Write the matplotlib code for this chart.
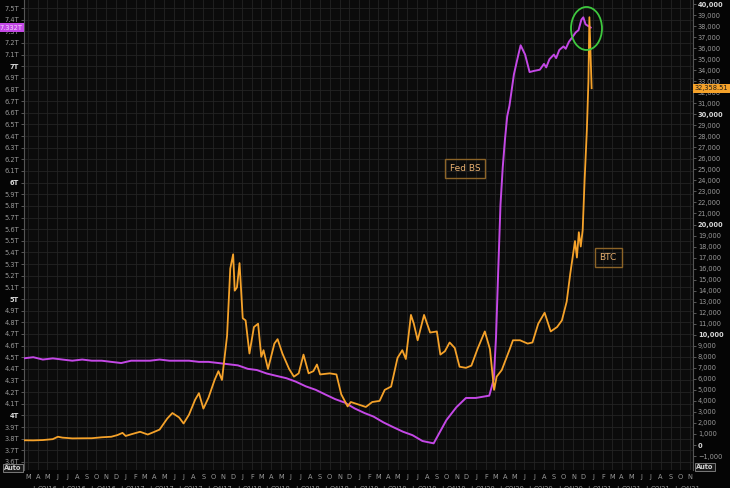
import matplotlib
matplotlib.use('Agg')
import matplotlib.pyplot as plt
import matplotlib.transforms as mtrans
from matplotlib.patches import Ellipse
import pandas as pd

# ---------------- data ----------------
fed_dates = ['2016-03-01', '2016-04-01', '2016-05-01', '2016-06-01', '2016-07-01', '2016-08-01',
             '2016-09-01', '2016-10-01', '2016-11-01', '2016-12-01', '2017-01-01', '2017-02-01',
             '2017-03-01', '2017-04-01', '2017-05-01', '2017-06-01', '2017-07-01', '2017-08-01',
             '2017-09-01', '2017-10-01', '2017-11-01', '2017-12-01', '2018-01-01', '2018-02-01',
             '2018-03-01', '2018-04-01', '2018-05-01', '2018-06-01', '2018-07-01', '2018-08-01',
             '2018-09-01', '2018-10-01', '2018-11-01', '2018-12-01', '2019-01-01', '2019-02-01',
             '2019-03-01', '2019-04-01', '2019-05-01', '2019-06-01', '2019-07-01', '2019-08-01',
             '2019-09-05', '2019-09-25', '2019-10-15', '2019-11-15', '2019-12-15', '2020-01-15',
             '2020-02-26', '2020-03-04', '2020-03-11', '2020-03-18', '2020-03-25', '2020-04-01',
             '2020-04-08', '2020-04-15', '2020-04-22', '2020-04-29', '2020-05-13', '2020-05-27',
             '2020-06-03', '2020-06-17', '2020-07-01', '2020-07-15', '2020-08-02', '2020-08-15',
             '2020-08-22', '2020-09-01', '2020-09-15', '2020-09-22', '2020-10-02', '2020-10-15',
             '2020-10-22', '2020-11-01', '2020-11-12', '2020-11-22', '2020-12-01', '2020-12-10',
             '2020-12-16', '2020-12-23', '2021-01-08']
fed_bs = [4.49, 4.50, 4.48, 4.49, 4.48, 4.47,
          4.48, 4.47, 4.47, 4.46, 4.45, 4.47,
          4.47, 4.47, 4.48, 4.47, 4.47, 4.47,
          4.46, 4.46, 4.45, 4.44, 4.43, 4.40,
          4.39, 4.36, 4.34, 4.32, 4.29, 4.25,
          4.22, 4.18, 4.14, 4.11, 4.06, 4.02,
          3.99, 3.94, 3.90, 3.86, 3.83, 3.78,
          3.76, 3.86, 3.96, 4.07, 4.15, 4.15,
          4.17, 4.24, 4.31, 4.67, 5.25, 5.81,
          6.13, 6.37, 6.57, 6.66, 6.93, 7.10,
          7.18, 7.10, 6.95, 6.96, 6.97, 7.02,
          6.99, 7.06, 7.10, 7.07, 7.14, 7.17,
          7.15, 7.21, 7.25, 7.29, 7.31, 7.40,
          7.42, 7.36, 7.3321]

btc_dates = ['2016-03-01', '2016-04-01', '2016-05-01', '2016-06-01', '2016-06-17', '2016-07-01',
             '2016-08-01', '2016-09-01', '2016-10-01', '2016-11-01', '2016-12-01', '2016-12-20',
             '2017-01-05', '2017-01-15', '2017-02-01', '2017-03-01', '2017-03-25', '2017-04-15',
             '2017-05-01', '2017-05-25', '2017-06-10', '2017-07-01', '2017-07-15', '2017-08-01',
             '2017-08-20', '2017-09-01', '2017-09-15', '2017-10-01', '2017-10-20', '2017-11-01',
             '2017-11-12', '2017-11-28', '2017-12-08', '2017-12-17', '2017-12-22', '2017-12-29',
             '2018-01-06', '2018-01-16', '2018-01-25', '2018-02-06', '2018-02-20', '2018-03-05',
             '2018-03-15', '2018-03-22', '2018-04-05', '2018-04-25', '2018-05-05', '2018-05-20',
             '2018-06-10', '2018-06-25', '2018-07-10', '2018-07-25', '2018-08-10', '2018-08-25',
             '2018-09-05', '2018-09-15', '2018-10-15', '2018-11-05', '2018-11-20', '2018-12-10',
             '2018-12-20', '2019-01-10', '2019-02-05', '2019-02-25', '2019-03-20', '2019-04-05',
             '2019-04-25', '2019-05-15', '2019-05-30', '2019-06-10', '2019-06-26', '2019-07-05',
             '2019-07-17', '2019-08-06', '2019-08-25', '2019-09-15', '2019-09-26', '2019-10-10',
             '2019-10-25', '2019-11-10', '2019-11-25', '2019-12-15', '2020-01-01', '2020-01-20',
             '2020-02-12', '2020-02-28', '2020-03-12', '2020-03-20', '2020-04-05', '2020-04-30',
             '2020-05-10', '2020-06-01', '2020-06-25', '2020-07-10', '2020-07-28', '2020-08-17',
             '2020-09-05', '2020-09-25', '2020-10-10', '2020-10-25', '2020-11-05', '2020-11-20',
             '2020-11-26', '2020-12-02', '2020-12-08', '2020-12-14', '2020-12-20', '2020-12-27',
             '2021-01-01', '2021-01-04', '2021-01-11']
btc = [430, 420, 450, 530, 750, 670,
       600, 610, 615, 700, 750, 900,
       1100, 820, 970, 1200, 950, 1200,
       1400, 2400, 2900, 2500, 1950, 2750,
       4100, 4700, 3300, 4300, 5900, 6700,
       5900, 9900, 16000, 17300, 14000, 14300,
       16500, 11500, 11300, 8300, 10700, 11000,
       8000, 8600, 6900, 9200, 9600, 8300,
       6900, 6200, 6500, 8200, 6500, 6700,
       7300, 6400, 6500, 6400, 4600, 3500,
       3900, 3700, 3450, 3900, 4000, 5000,
       5300, 7900, 8600, 7800, 11800, 11000,
       9500, 11800, 10200, 10300, 8200, 8500,
       9300, 8800, 7100, 7000, 7200, 8700,
       10300, 8700, 5000, 6200, 6800, 8700,
       9500, 9500, 9200, 9300, 11000, 12000,
       10300, 10700, 11300, 13000, 15500, 18500,
       17000, 19300, 18000, 19500, 24000, 28500,
       33000, 38800, 32358.51]

left_ticks = [round(3.6 + 0.1 * i, 1) for i in range(40)]
right_ticks = list(range(-1000, 41000, 1000))
month_letters = 'JFMAMJJASOND'
fed_last_label = '7.332T'
btc_last_label = '32,358.51'

# ---------------- style ----------------
BG = '#0b0b0b'
GRID = '#242424'
TXT = '#9a9a9a'
MAG = '#c448e6'
ORA = '#f5a22a'

fig = plt.figure(figsize=(7.3, 4.88), dpi=100, facecolor='#050505')
ax = fig.add_axes([24 / 730, 1 - 470 / 488, 669 / 730, 470 / 488])
ax.set_facecolor(BG)
ax2 = ax.twinx()

fd = pd.to_datetime(fed_dates)
bd = pd.to_datetime(btc_dates)
ax.plot(fd, fed_bs, color=MAG, lw=1.4, zorder=3)
ax2.plot(bd, btc, color=ORA, lw=1.3, zorder=3)

ax.set_xlim(pd.Timestamp('2016-03-03'), pd.Timestamp('2021-11-24'))
ax.set_ylim(3.531, 7.569)
ax2.set_ylim(-2267, 40363)

# grid
months = pd.date_range('2016-03-01', '2021-11-01', freq='MS') + pd.Timedelta(days=14)
for m in months:
    ax.axvline(m, color=GRID, lw=0.6, zorder=0)
for t in left_ticks:
    ax.axhline(t, color=GRID, lw=0.6, zorder=0)

for a in (ax, ax2):
    for s in a.spines.values():
        s.set_visible(False)
ax.spines['left'].set_visible(True)
ax.spines['left'].set_color('#555555')
ax2.spines['right'].set_visible(True)
ax2.spines['right'].set_color('#555555')

# left ticks
def fmt_t(v):
    return ('%dT' % round(v)) if abs(v - round(v)) < 1e-6 else ('%.1fT' % v)
ax.set_yticks(left_ticks)
ax.set_yticklabels([fmt_t(v) for v in left_ticks])
ax.tick_params(axis='y', which='both', direction='out', length=2.5, width=0.6,
               colors='#666666', labelcolor=TXT, labelsize=4.8, pad=1)
for lab, v in zip(ax.get_yticklabels(), left_ticks):
    if abs(v - round(v)) < 1e-6:
        lab.set_fontweight('bold')
        lab.set_color('#d8d8d8')

ax2.set_yticks(right_ticks)
ax2.set_yticklabels(['{:,}'.format(v) if v >= 0 else '\u2212{:,}'.format(-v) for v in right_ticks])
ax2.tick_params(axis='y', direction='out', length=2.5, width=0.6,
                colors='#666666', labelcolor=TXT, labelsize=4.8, pad=1)
for lab, v in zip(ax2.get_yticklabels(), right_ticks):
    if v % 10000 == 0:
        lab.set_fontweight('bold')
        lab.set_color('#d8d8d8')

# x month letters
ax.set_xticks(months)
ax.set_xticklabels([month_letters[m.month - 1] for m in months])
ax.tick_params(axis='x', length=0, labelsize=4.8, labelcolor=TXT, pad=3)
ax2.tick_params(axis='x', length=0)

# quarter labels
trans = mtrans.blended_transform_factory(ax.transData, ax.transAxes)
qstarts = pd.date_range('2016-04-01', '2021-10-01', freq='QS')
for q in qstarts:
    ax.text(q, -0.033, '|', transform=trans, ha='center', va='top', fontsize=5,
            color=TXT, clip_on=False)
    mid = q + pd.DateOffset(months=1) + pd.Timedelta(days=14)
    ax.text(mid, -0.033, "Q%d'%02d" % ((q.month - 1) // 3 + 1, q.year % 100), transform=trans,
            ha='center', va='top', fontsize=4.8, color=TXT, clip_on=False)

# last value labels
tl = mtrans.blended_transform_factory(ax.transAxes, ax.transData)
ax.text(-0.003, fed_bs[-1], fed_last_label, transform=tl, ha='right', va='center',
        fontsize=4.8, color='#f0d8f8', zorder=10,
        bbox=dict(facecolor=MAG, edgecolor='none', pad=1.2), clip_on=False)
tr = mtrans.blended_transform_factory(ax2.transAxes, ax2.transData)
ax2.text(1.003, btc[-1], btc_last_label, transform=tr, ha='left', va='center',
         fontsize=4.8, color='#1a1a1a', zorder=10,
         bbox=dict(facecolor=ORA, edgecolor='none', pad=1.2), clip_on=False)

# annotations
box = dict(facecolor='none', edgecolor='#8c6428', lw=1.0, pad=3.5)
ax2.text(0.659, 0.6415, 'Fed BS', transform=ax2.transAxes, ha='center', va='center',
         fontsize=6.5, color='#e8b070', bbox=box, zorder=6)
ax2.text(0.873, 0.452, 'BTC', transform=ax2.transAxes, ha='center', va='center',
         fontsize=6.5, color='#e8b070', bbox=box, zorder=6)
ax2.add_patch(Ellipse((0.8408, 0.9394), 0.0463, 0.0915, transform=ax2.transAxes,
                      fill=False, edgecolor='#3ec83e', lw=1.3, zorder=7))

# Auto boxes
abox = dict(facecolor='#1a1a1a', edgecolor='#8a8a8a', lw=0.6, pad=0.8)
fig.text(13 / 730, 1 - 468 / 488, 'Auto', ha='center', va='center', fontsize=4.8,
         color='#d0d0d0', fontweight='bold', bbox=abox)
fig.text(705 / 730, 1 - 467 / 488, 'Auto', ha='center', va='center', fontsize=4.8,
         color='#d0d0d0', fontweight='bold', bbox=abox)

fig.savefig('out.png', dpi=100, facecolor=fig.get_facecolor())
